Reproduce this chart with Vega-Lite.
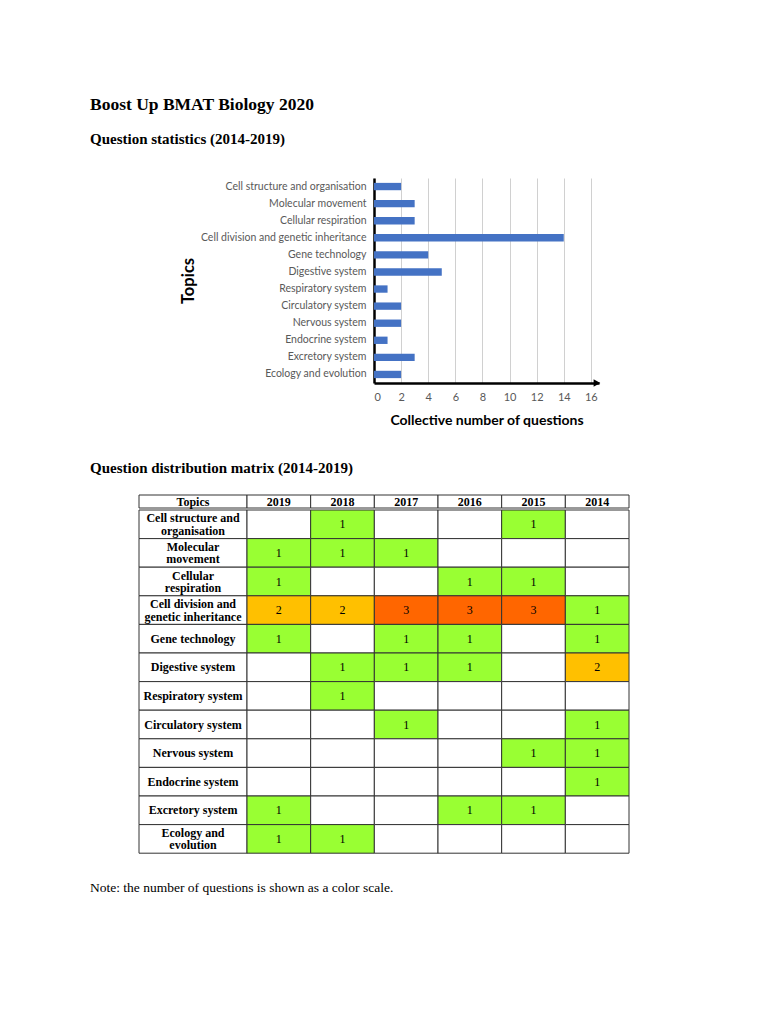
{
  "$schema": "https://vega.github.io/schema/vega-lite/v6.json",
  "background": "white",
  "padding": {"left": 90, "top": 95, "right": 20, "bottom": 20},
  "autosize": {"type": "pad"},
  "config": {"view": {"stroke": null}, "font": "Liberation Serif"},
  "title": {
    "text": "Boost Up BMAT Biology 2020",
    "subtitle": "Question statistics (2014-2019)",
    "anchor": "start", "frame": "group", "dx": -49,
    "font": "Liberation Serif", "fontSize": 17.5, "fontWeight": "bold", "color": "black",
    "subtitleFont": "Liberation Serif", "subtitleFontSize": 15, "subtitleFontWeight": "bold", "subtitleColor": "black",
    "subtitlePadding": 19, "offset": 31
  },
  "datasets": {
    "matrix": [
      {"topic": "Cell structure and organisation", "label": "Cell structure and\norganisation", "2019": null, "2018": 1, "2017": null, "2016": null, "2015": 1, "2014": null},
      {"topic": "Molecular movement", "label": "Molecular\nmovement", "2019": 1, "2018": 1, "2017": 1, "2016": null, "2015": null, "2014": null},
      {"topic": "Cellular respiration", "label": "Cellular\nrespiration", "2019": 1, "2018": null, "2017": null, "2016": 1, "2015": 1, "2014": null},
      {"topic": "Cell division and genetic inheritance", "label": "Cell division and\ngenetic inheritance", "2019": 2, "2018": 2, "2017": 3, "2016": 3, "2015": 3, "2014": 1},
      {"topic": "Gene technology", "label": "Gene technology", "2019": 1, "2018": null, "2017": 1, "2016": 1, "2015": null, "2014": 1},
      {"topic": "Digestive system", "label": "Digestive system", "2019": null, "2018": 1, "2017": 1, "2016": 1, "2015": null, "2014": 2},
      {"topic": "Respiratory system", "label": "Respiratory system", "2019": null, "2018": 1, "2017": null, "2016": null, "2015": null, "2014": null},
      {"topic": "Circulatory system", "label": "Circulatory system", "2019": null, "2018": null, "2017": 1, "2016": null, "2015": null, "2014": 1},
      {"topic": "Nervous system", "label": "Nervous system", "2019": null, "2018": null, "2017": null, "2016": null, "2015": 1, "2014": 1},
      {"topic": "Endocrine system", "label": "Endocrine system", "2019": null, "2018": null, "2017": null, "2016": null, "2015": null, "2014": 1},
      {"topic": "Excretory system", "label": "Excretory system", "2019": 1, "2018": null, "2017": null, "2016": 1, "2015": 1, "2014": null},
      {"topic": "Ecology and evolution", "label": "Ecology and\nevolution", "2019": 1, "2018": 1, "2017": null, "2016": null, "2015": null, "2014": null}
    ],
    "header": [{"col": "2019"}, {"col": "2018"}, {"col": "2017"}, {"col": "2016"}, {"col": "2015"}, {"col": "2014"}]
  },
  "spacing": 33,
  "vconcat": [
    {
      "hconcat": [
        {"width": 200, "height": 205, "data": {"values": []}, "mark": {"type": "point"}},
        {
          "width": 225, "height": 205,
          "data": {"name": "matrix"},
          "transform": [{"fold": ["2019", "2018", "2017", "2016", "2015", "2014"], "as": ["year", "n"]}],
          "layer": [
            {
              "mark": {"type": "bar", "color": "#4472C4"},
              "encoding": {
                "y": {
                  "field": "topic", "type": "nominal",
                  "scale": {"domain": ["Cell structure and organisation", "Molecular movement", "Cellular respiration", "Cell division and genetic inheritance", "Gene technology", "Digestive system", "Respiratory system", "Circulatory system", "Nervous system", "Endocrine system", "Excretory system", "Ecology and evolution"], "paddingInner": 0.57, "paddingOuter": 0.285},
                  "axis": {"title": "Topics", "domainColor": "black", "domainWidth": 2.5, "ticks": false, "labelFont": "Lato", "labelFontSize": 10.5, "labelColor": "#595959", "labelPadding": 8, "labelLimit": 300, "titleFont": "Lato", "titleFontSize": 16.5, "titleFontWeight": "bold", "titleColor": "black", "titlePadding": 4}
                },
                "x": {
                  "aggregate": "sum", "field": "n", "type": "quantitative",
                  "scale": {"domain": [0, 16.6], "nice": false},
                  "axis": {"values": [0, 2, 4, 6, 8, 10, 12, 14, 16], "labelOverlap": false, "title": "Collective number of questions", "grid": true, "gridColor": "#d0d0d0", "domainColor": "black", "domainWidth": 2.5, "ticks": false, "labelFont": "Lato", "labelFontSize": 11, "labelColor": "#595959", "labelPadding": 8, "titleFont": "Lato", "titleFontSize": 14, "titleFontWeight": "bold", "titleColor": "black", "titlePadding": 11}
                }
              }
            },
            {
              "data": {"values": [{}]},
              "mark": {"type": "point", "shape": "triangle-right", "filled": true, "color": "black", "size": 60, "opacity": 1},
              "encoding": {
                "x": {"datum": 16.45, "type": "quantitative",
                  "axis": {"values": [0, 2, 4, 6, 8, 10, 12, 14, 16], "labelOverlap": false, "title": "Collective number of questions", "grid": true, "gridColor": "#d0d0d0", "domainColor": "black", "domainWidth": 2.5, "ticks": false, "labelFont": "Lato", "labelFontSize": 11, "labelColor": "#595959", "labelPadding": 8, "titleFont": "Lato", "titleFontSize": 14, "titleFontWeight": "bold", "titleColor": "black", "titlePadding": 11}},
                "y": {"value": "height"}
              }
            }
          ]
        }
      ],
      "spacing": 35,
      "bounds": "flush"
    },
    {
      "title": {"text": "Question distribution matrix (2014-2019)", "anchor": "start", "frame": "group", "dx": -49, "font": "Liberation Serif", "fontSize": 15, "fontWeight": "bold", "color": "black", "offset": 19},
      "spacing": 0,
      "vconcat": [
        {
          "spacing": 0, "bounds": "flush",
          "hconcat": [
            {
              "width": 108, "height": 13,
              "data": {"values": [{"col": "Topics"}]},
              "layer": [
                {"mark": {"type": "rect", "fill": "white", "stroke": "#333", "strokeWidth": 1}},
                {"mark": {"type": "text", "font": "Liberation Serif", "fontSize": 12, "fontWeight": "bold", "color": "black"}, "encoding": {"text": {"field": "col"}}}
              ]
            },
            {
              "width": 382, "height": 13,
              "data": {"name": "header"},
              "encoding": {"x": {"field": "col", "type": "nominal", "sort": null, "scale": {"paddingInner": 0, "paddingOuter": 0}, "axis": null}},
              "layer": [
                {"mark": {"type": "rect", "fill": "white", "stroke": "#333", "strokeWidth": 1}},
                {"mark": {"type": "text", "font": "Liberation Serif", "fontSize": 12, "fontWeight": "bold", "color": "black"}, "encoding": {"text": {"field": "col"}}}
              ]
            }
          ]
        },
        {
          "spacing": 0, "bounds": "flush",
          "title": {"text": "Note: the number of questions is shown as a color scale.", "orient": "bottom", "anchor": "start", "frame": "group", "dx": -49, "font": "Liberation Serif", "fontSize": 13.5, "fontWeight": "normal", "color": "black", "offset": 27},
          "hconcat": [
            {
              "width": 108, "height": 343.2,
              "data": {"name": "matrix"},
              "encoding": {"y": {"field": "topic", "type": "nominal", "scale": {"domain": ["Cell structure and organisation", "Molecular movement", "Cellular respiration", "Cell division and genetic inheritance", "Gene technology", "Digestive system", "Respiratory system", "Circulatory system", "Nervous system", "Endocrine system", "Excretory system", "Ecology and evolution"], "paddingInner": 0, "paddingOuter": 0}, "axis": null}},
              "layer": [
                {"mark": {"type": "rect", "fill": "white", "stroke": "#333", "strokeWidth": 1}},
                {
                  "transform": [{"filter": "indexof(datum.label, '\\n') < 0"}],
                  "mark": {"type": "text", "font": "Liberation Serif", "fontSize": 12, "fontWeight": "bold", "color": "black"},
                  "encoding": {"text": {"field": "label"}}
                },
                {
                  "transform": [{"filter": "indexof(datum.label, '\\n') >= 0"}],
                  "mark": {"type": "text", "font": "Liberation Serif", "fontSize": 12, "fontWeight": "bold", "color": "black", "lineBreak": "\n", "lineHeight": 12.5, "dy": -6},
                  "encoding": {"text": {"field": "label"}}
                }
              ]
            },
            {
              "width": 382, "height": 343.2,
              "data": {"name": "matrix"},
              "transform": [{"fold": ["2019", "2018", "2017", "2016", "2015", "2014"], "as": ["year", "n"]}],
              "encoding": {
                "y": {"field": "topic", "type": "nominal", "scale": {"domain": ["Cell structure and organisation", "Molecular movement", "Cellular respiration", "Cell division and genetic inheritance", "Gene technology", "Digestive system", "Respiratory system", "Circulatory system", "Nervous system", "Endocrine system", "Excretory system", "Ecology and evolution"], "paddingInner": 0, "paddingOuter": 0}, "axis": null},
                "x": {"field": "year", "type": "nominal", "scale": {"domain": ["2019", "2018", "2017", "2016", "2015", "2014"], "paddingInner": 0, "paddingOuter": 0}, "axis": null}
              },
              "layer": [
                {
                  "mark": {"type": "rect", "stroke": "#333", "strokeWidth": 1},
                  "encoding": {"fill": {"condition": {"test": "datum.n == null", "value": "white"}, "field": "n", "type": "ordinal", "scale": {"domain": [1, 2, 3], "range": ["#99FF33", "#FFC000", "#FF6600"]}, "legend": null}}
                },
                {
                  "transform": [{"filter": "datum.n != null"}],
                  "mark": {"type": "text", "font": "Liberation Serif", "fontSize": 12, "color": "black"},
                  "encoding": {"text": {"field": "n", "type": "nominal"}}
                }
              ]
            }
          ]
        }
      ]
    }
  ]
}
